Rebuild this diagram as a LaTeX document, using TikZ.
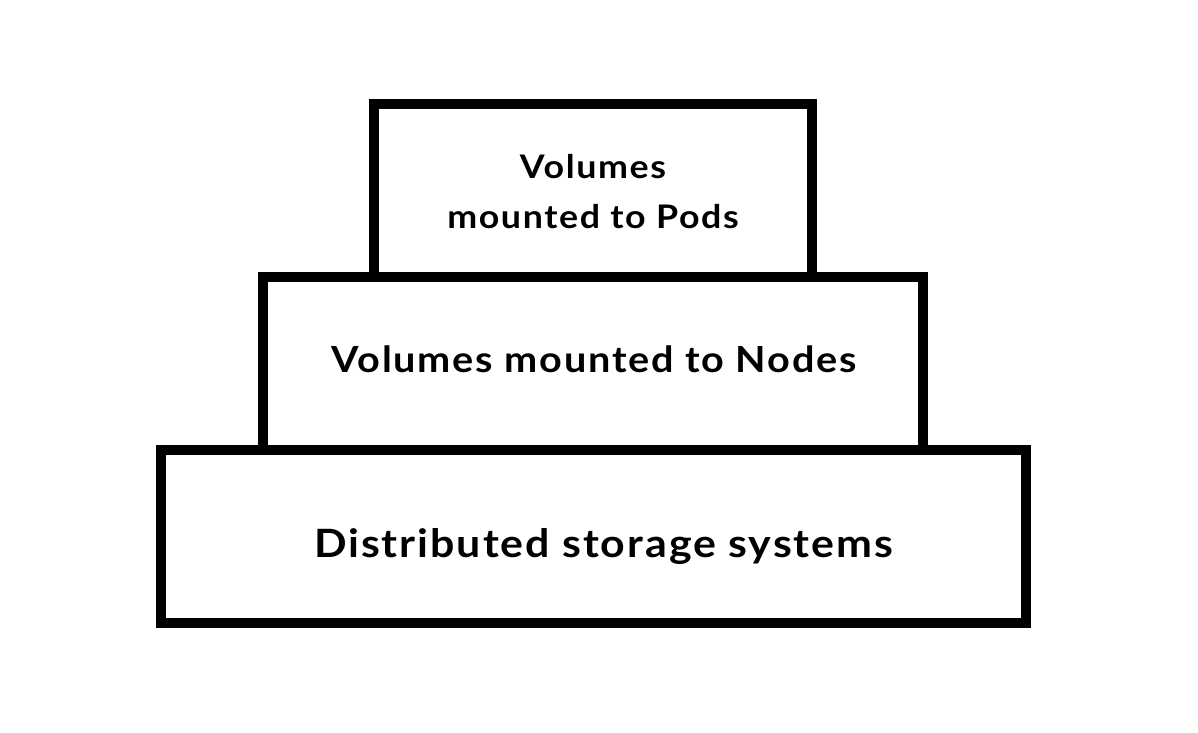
\documentclass[tikz,border=0pt]{standalone}
\usepackage{fontspec}
\setmainfont{Lato}[LetterSpace=5, FakeStretch=1.1]
\begin{document}
\begin{tikzpicture}[x=1pt,y=-1pt,
  layer/.style={draw=black, line width=10pt, fill=none, inner sep=0pt, outer sep=0pt},
  lbl/.style={font=\bfseries, text=black, inner sep=0pt, anchor=base}]
\useasboundingbox[fill=white] (0,0) rectangle (1198,732);
% boxes (centre lines)
\node[layer, minimum width=438pt, minimum height=173pt] (pods) at (593,190.5) {};
\node[layer, minimum width=659.5pt, minimum height=173pt] (nodes) at (592.75,363.5) {};
\node[layer, minimum width=865pt, minimum height=173pt] (storage) at (593.5,536.5) {};
% labels
\node[lbl, font=\bfseries\fontsize{32.5}{50}\selectfont, align=center] (tpods) at (593,228) {Volumes\\mounted to Pods};
\node[lbl, font=\bfseries\fontsize{36}{43}\selectfont] (tnodes) at (594,372) {Volumes mounted to Nodes};
\node[lbl, font=\bfseries\fontsize{39}{47}\selectfont] (tstorage) at (603.5,557.7) {Distributed storage systems};
\end{tikzpicture}
\end{document}
